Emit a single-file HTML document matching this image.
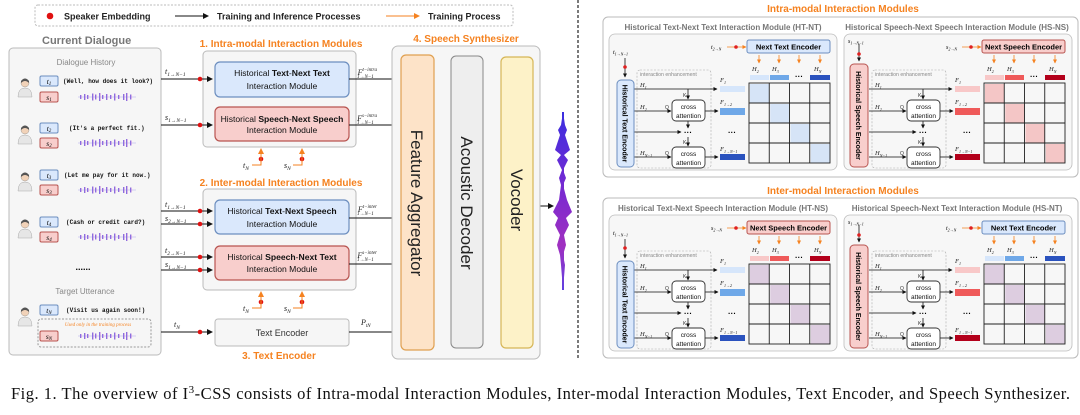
<!DOCTYPE html>
<html><head><meta charset="utf-8"><style>
html,body{margin:0;padding:0;background:#fff;}
svg{display:block;font-family:"Liberation Sans",sans-serif;}
.m{font-family:"Liberation Serif",serif;font-style:italic;}
.b{font-weight:bold;}
.mono{font-family:"Liberation Mono",monospace;font-weight:bold;}
</style></head><body>
<svg width="1080" height="415" viewBox="0 0 1080 415" xmlns="http://www.w3.org/2000/svg">
<defs>
<marker id="ak" markerWidth="6" markerHeight="6" refX="5" refY="3" orient="auto" markerUnits="userSpaceOnUse"><path d="M0,0 L6,3 L0,6 z" fill="#111"/></marker>
<marker id="ao" markerWidth="6" markerHeight="6" refX="5" refY="3" orient="auto" markerUnits="userSpaceOnUse"><path d="M0,0 L6,3 L0,6 z" fill="#f58220"/></marker>
<marker id="as" markerWidth="4" markerHeight="4" refX="3.5" refY="2" orient="auto" markerUnits="userSpaceOnUse"><path d="M0,0 L4,2 L0,4 z" fill="#111"/></marker>
<marker id="aso" markerWidth="4" markerHeight="4" refX="3.5" refY="2" orient="auto" markerUnits="userSpaceOnUse"><path d="M0,0 L4,2 L0,4 z" fill="#f58220"/></marker>
<linearGradient id="wg" x1="0" x2="1" y1="0" y2="0"><stop offset="0" stop-color="#5b6fe0"/><stop offset="0.5" stop-color="#a070e0"/><stop offset="1" stop-color="#d080d0"/></linearGradient>
<linearGradient id="wv" x1="0" x2="0" y1="0" y2="1"><stop offset="0" stop-color="#3a2ee0"/><stop offset="0.45" stop-color="#7a2ad0"/><stop offset="0.75" stop-color="#a030c0"/><stop offset="1" stop-color="#6040e0"/></linearGradient>
<g id="wave">
<path d="M0,0 H58" stroke="#b0a8f0" stroke-width="0.6"/>
<g fill="url(#wg)"><rect x="2" y="-2" width="1.5" height="4"/><rect x="6" y="-3" width="1.5" height="6"/><rect x="9" y="-2" width="1.5" height="4"/><rect x="14" y="-3.5" width="1.5" height="7"/><rect x="17" y="-2.5" width="1.5" height="5"/><rect x="21" y="-4" width="1.5" height="8"/><rect x="24" y="-2" width="1.5" height="4"/><rect x="28" y="-3" width="1.5" height="6"/><rect x="32" y="-2" width="1.5" height="4"/><rect x="36" y="-3.5" width="1.5" height="7"/><rect x="40" y="-2" width="1.5" height="4"/><rect x="45" y="-3" width="1.5" height="6"/><rect x="48" y="-4" width="1.5" height="8"/><rect x="52" y="-2.5" width="1.5" height="5"/></g>
</g>
<g id="av">
<circle cx="0" cy="-5" r="4" fill="#f1d2b8" stroke="#888" stroke-width="0.4"/>
<path d="M-4,-7 Q0,-12 4,-7 L4,-5 Q0,-9 -4,-5z" fill="#555"/>
<path d="M-7,9 Q-7,0 0,0 Q7,0 7,9z" fill="#e6e6e6" stroke="#999" stroke-width="0.4"/>
</g>
<g id="sm">
<rect x="0" y="0" width="228" height="136" rx="6" fill="#f7f7f7" stroke="#bdbdbd" stroke-width="0.8"/>
<rect x="28" y="36" width="74" height="98" rx="3" fill="none" stroke="#aaa" stroke-width="0.6" stroke-dasharray="2,1.5"/>
<text x="31" y="42" font-size="5.2" fill="#888">interaction enhancement</text>
<g stroke="#111" stroke-width="0.8" fill="none">
<path d="M25,55 H108" marker-end="url(#as)"/>
<path d="M25,77 H62" marker-end="url(#as)"/>
<path d="M25,98 H72" marker-end="url(#as)"/>
<path d="M25,123 H62" marker-end="url(#as)"/>
<path d="M79,55 V65" marker-end="url(#as)"/>
<path d="M79,87 V94" marker-end="url(#as)"/>
<path d="M79,103 V112" marker-end="url(#as)"/>
<path d="M96,77 H109" marker-end="url(#as)"/>
<path d="M96,123 H109" marker-end="url(#as)"/>
</g>
<rect x="63" y="66" width="33" height="21" rx="4" fill="#fff" stroke="#333" stroke-width="0.9"/>
<rect x="63" y="113" width="33" height="21" rx="4" fill="#fff" stroke="#333" stroke-width="0.9"/>
<g font-size="6.5" text-anchor="middle" fill="#111"><text x="79.5" y="75">cross</text><text x="79.5" y="84">attention</text><text x="79.5" y="122">cross</text><text x="79.5" y="131">attention</text></g>
<g font-size="5" fill="#333"><text x="74" y="63">K</text><text x="74" y="110">K</text><text x="56" y="75">Q</text><text x="56" y="121">Q</text></g>
<text x="79" y="101" font-size="8" text-anchor="middle" class="b">···</text>
<text x="123" y="101" font-size="8" text-anchor="middle" class="b">···</text>
<text x="190" y="45" font-size="8" text-anchor="middle" class="b">···</text>
<g stroke="#f58220" stroke-width="0.8"><path d="M150,21 V29" marker-end="url(#aso)"/><path d="M170,21 V29" marker-end="url(#aso)"/><path d="M190,21 V29" marker-end="url(#aso)"/><path d="M211,21 V29" marker-end="url(#aso)"/><path d="M118,13 H137" marker-end="url(#aso)"/></g>
<circle cx="127" cy="13" r="1.8" fill="#e02020"/>
<g class="m" font-size="6.5" fill="#222"><text x="31" y="53">H<tspan font-size="4" dy="2">1</tspan></text><text x="31" y="75">H<tspan font-size="4" dy="2">2</tspan></text><text x="31" y="121">H<tspan font-size="4" dy="2">N−1</tspan></text>
<text x="111" y="48">F<tspan font-size="4" dy="2">1</tspan></text><text x="111" y="70">F<tspan font-size="4" dy="2">1→2</tspan></text><text x="111" y="117">F<tspan font-size="4" dy="2">1→N−1</tspan></text>
<text x="143" y="37">H<tspan font-size="4" dy="2">2</tspan></text><text x="163" y="37">H<tspan font-size="4" dy="2">3</tspan></text><text x="205" y="37">H<tspan font-size="4" dy="2">N</tspan></text></g>
</g>
<g id="grid" fill="none" stroke="#222" stroke-width="0.9">
<rect x="140" y="49" width="81" height="80"/>
<path d="M160.25,49V129M180.5,49V129M200.75,49V129M140,69H221M140,89H221M140,109H221"/>
</g>
</defs>

<!-- Legend -->
<rect x="35" y="5" width="478" height="21" rx="3" fill="#fff" stroke="#bbb" stroke-dasharray="2,1.5"/>
<circle cx="50" cy="16" r="3.3" fill="#e01010"/>
<text x="64" y="19.5" font-size="9" class="b" fill="#222">Speaker Embedding</text>
<path d="M175,16 H208" stroke="#111" stroke-width="1" marker-end="url(#ak)"/>
<text x="217" y="19.5" font-size="9" class="b" fill="#222">Training and Inference Processes</text>
<path d="M386,16 H419" stroke="#f58220" stroke-width="1" marker-end="url(#ao)"/>
<text x="428" y="19.5" font-size="9" class="b" fill="#222">Training Process</text>

<!-- Left panel -->
<text x="42" y="44" font-size="11" class="b" fill="#777">Current Dialogue</text>
<rect x="9" y="48" width="152" height="307" rx="4" fill="#f6f6f6" stroke="#bbb"/>
<text x="86" y="65" font-size="8" fill="#888" text-anchor="middle">Dialogue History</text>
<g font-size="7.5" class="m" text-anchor="middle">
<rect x="40" y="76" width="18" height="10" rx="1.5" fill="#dae8fc" stroke="#6c8ebf"/><text x="49" y="84">t<tspan font-size="5" dy="1">1</tspan></text>
<rect x="40" y="92" width="18" height="10" rx="1.5" fill="#f8cecc" stroke="#b85450"/><text x="49" y="100">s<tspan font-size="5" dy="1">1</tspan></text>
<rect x="40" y="123" width="18" height="10" rx="1.5" fill="#dae8fc" stroke="#6c8ebf"/><text x="49" y="131">t<tspan font-size="5" dy="1">2</tspan></text>
<rect x="40" y="138" width="18" height="10" rx="1.5" fill="#f8cecc" stroke="#b85450"/><text x="49" y="146">s<tspan font-size="5" dy="1">2</tspan></text>
<rect x="40" y="170" width="18" height="10" rx="1.5" fill="#dae8fc" stroke="#6c8ebf"/><text x="49" y="178">t<tspan font-size="5" dy="1">3</tspan></text>
<rect x="40" y="185" width="18" height="10" rx="1.5" fill="#f8cecc" stroke="#b85450"/><text x="49" y="193">s<tspan font-size="5" dy="1">3</tspan></text>
<rect x="40" y="217" width="18" height="10" rx="1.5" fill="#dae8fc" stroke="#6c8ebf"/><text x="49" y="225">t<tspan font-size="5" dy="1">4</tspan></text>
<rect x="40" y="232" width="18" height="10" rx="1.5" fill="#f8cecc" stroke="#b85450"/><text x="49" y="240">s<tspan font-size="5" dy="1">4</tspan></text>
<rect x="40" y="305" width="18" height="10" rx="1.5" fill="#dae8fc" stroke="#6c8ebf"/><text x="49" y="313">t<tspan font-size="5" dy="1">N</tspan></text>
<rect x="40" y="331" width="18" height="10" rx="1.5" fill="#f8cecc" stroke="#b85450"/><text x="49" y="339">s<tspan font-size="5" dy="1">N</tspan></text>
</g>
<g class="mono" font-size="6" fill="#111">
<text x="63" y="83">(Well, how does it look?)</text>
<text x="69" y="130">(It's a perfect fit.)</text>
<text x="64" y="177">(Let me pay for it now.)</text>
<text x="66" y="224">(Cash or credit card?)</text>
<text x="66" y="312">(Visit us again soon!)</text>
</g>
<use href="#wave" x="78" y="97"/><use href="#wave" x="78" y="143"/><use href="#wave" x="78" y="190"/><use href="#wave" x="78" y="237"/><use href="#wave" x="78" y="336"/>
<use href="#av" x="25" y="88"/><use href="#av" x="25" y="135"/><use href="#av" x="25" y="182"/><use href="#av" x="25" y="229"/><use href="#av" x="25" y="317"/>
<text x="83" y="270" font-size="9" class="b" text-anchor="middle">......</text>
<text x="85" y="294" font-size="8" fill="#888" text-anchor="middle">Target Utterance</text>
<rect x="38" y="319" width="113" height="28" rx="3" fill="none" stroke="#999" stroke-dasharray="2,1.5"/>
<text x="98" y="326" font-size="5" class="m" fill="#f58220" text-anchor="middle">Used only in the training process</text>

<!-- Section labels -->
<g font-size="10" class="b" fill="#f58220" text-anchor="middle">
<text x="281" y="47">1. Intra-modal Interaction Modules</text>
<text x="281" y="186">2. Inter-modal Interaction Modules</text>
<text x="279" y="359">3. Text Encoder</text>
<text x="466" y="42">4. Speech Synthesizer</text>
<text x="843" y="12">Intra-modal Interaction Modules</text>
<text x="843" y="194">Inter-modal Interaction Modules</text>
</g>

<!-- Intra box -->
<rect x="203" y="51" width="153" height="96" rx="4" fill="#f6f6f6" stroke="#bbb"/>
<rect x="215" y="62" width="134" height="35" rx="5" fill="#dae8fc" stroke="#6c8ebf" stroke-width="1.2"/>
<rect x="215" y="107" width="134" height="34" rx="5" fill="#f8cecc" stroke="#b85450" stroke-width="1.2"/>
<g font-size="8.6" text-anchor="middle" fill="#111">
<text x="282" y="76">Historical <tspan class="b">Text</tspan>-<tspan class="b">Next</tspan> <tspan class="b">Text</tspan></text><text x="282" y="89">Interaction Module</text>
<text x="282" y="122">Historical <tspan class="b">Speech</tspan>-<tspan class="b">Next</tspan> <tspan class="b">Speech</tspan></text><text x="282" y="133">Interaction Module</text>
</g>
<!-- Inter box -->
<rect x="203" y="189" width="153" height="101" rx="4" fill="#f6f6f6" stroke="#bbb"/>
<rect x="215" y="200" width="134" height="34" rx="5" fill="#dae8fc" stroke="#6c8ebf" stroke-width="1.2"/>
<rect x="215" y="246" width="134" height="34" rx="5" fill="#f8cecc" stroke="#b85450" stroke-width="1.2"/>
<g font-size="8.6" text-anchor="middle" fill="#111">
<text x="282" y="214">Historical <tspan class="b">Text</tspan>-<tspan class="b">Next</tspan> <tspan class="b">Speech</tspan></text><text x="282" y="227">Interaction Module</text>
<text x="282" y="260">Historical <tspan class="b">Speech</tspan>-<tspan class="b">Next</tspan> <tspan class="b">Text</tspan></text><text x="282" y="272">Interaction Module</text>
</g>
<!-- Text encoder -->
<rect x="215" y="319" width="134" height="27" rx="3" fill="#f6f6f6" stroke="#bbb"/>
<text x="282" y="336" font-size="9" text-anchor="middle" fill="#333">Text Encoder</text>

<!-- input arrows -->
<g stroke="#111" stroke-width="1" fill="none">
<path d="M161,79 H212" marker-end="url(#ak)"/><path d="M161,125 H212" marker-end="url(#ak)"/>
<path d="M161,211 H212" marker-end="url(#ak)"/><path d="M161,224 H212" marker-end="url(#ak)"/>
<path d="M161,257 H212" marker-end="url(#ak)"/><path d="M161,270 H212" marker-end="url(#ak)"/>
<path d="M161,332 H212" marker-end="url(#ak)"/>
<path d="M349,79 H399" marker-end="url(#ak)"/><path d="M349,125 H399" marker-end="url(#ak)"/>
<path d="M349,218 H399" marker-end="url(#ak)"/><path d="M349,264 H399" marker-end="url(#ak)"/>
<path d="M349,332 H399" marker-end="url(#ak)"/>
<path d="M437,206 H448" marker-end="url(#ak)"/><path d="M486,206 H497" marker-end="url(#ak)"/><path d="M535,206 H553" marker-end="url(#ak)"/>
</g>
<g fill="#e01010"><circle cx="200" cy="79" r="2.3"/><circle cx="200" cy="125" r="2.3"/><circle cx="200" cy="211" r="2.3"/><circle cx="200" cy="224" r="2.3"/><circle cx="200" cy="257" r="2.3"/><circle cx="200" cy="270" r="2.3"/><circle cx="200" cy="332" r="2.3"/>
<circle cx="261" cy="159" r="2.3"/><circle cx="302" cy="159" r="2.3"/><circle cx="261" cy="302" r="2.3"/><circle cx="302" cy="302" r="2.3"/></g>
<g stroke="#f58220" stroke-width="1" fill="none">
<path d="M252,165 H261 V149" marker-end="url(#ao)"/><path d="M293,165 H302 V149" marker-end="url(#ao)"/>
<path d="M252,308 H261 V292" marker-end="url(#ao)"/><path d="M293,308 H302 V292" marker-end="url(#ao)"/>
</g>
<g class="m" font-size="8" fill="#222">
<text x="165" y="74">t<tspan font-size="5.5" dy="2">1→N−1</tspan></text>
<text x="165" y="120">s<tspan font-size="5.5" dy="2">1→N−1</tspan></text>
<text x="165" y="207">t<tspan font-size="5.5" dy="2">1→N−1</tspan></text>
<text x="165" y="221">s<tspan font-size="5.5" dy="2">2→N−1</tspan></text>
<text x="165" y="253">t<tspan font-size="5.5" dy="2">2→N−1</tspan></text>
<text x="165" y="267">s<tspan font-size="5.5" dy="2">1→N−1</tspan></text>
<text x="174" y="327">t<tspan font-size="5.5" dy="2">N</tspan></text>
<text x="243" y="168">t<tspan font-size="5.5" dy="2">N</tspan></text><text x="284" y="168">s<tspan font-size="5.5" dy="2">N</tspan></text>
<text x="243" y="311">t<tspan font-size="5.5" dy="2">N</tspan></text><text x="284" y="311">s<tspan font-size="5.5" dy="2">N</tspan></text>
<text x="357" y="75">F<tspan font-size="5" dy="-4">t−intra</tspan><tspan font-size="5" dx="-20" dy="7">1→N−1</tspan></text>
<text x="357" y="121">F<tspan font-size="5" dy="-4">s−intra</tspan><tspan font-size="5" dx="-20" dy="7">1→N−1</tspan></text>
<text x="357" y="212">F<tspan font-size="5" dy="-4">t−inter</tspan><tspan font-size="5" dx="-20" dy="7">1→N−1</tspan></text>
<text x="357" y="258">F<tspan font-size="5" dy="-4">s−inter</tspan><tspan font-size="5" dx="-20" dy="7">1→N−1</tspan></text>
<text x="361" y="325">P<tspan font-size="5" dy="2">tN</tspan></text>
</g>

<!-- Speech synthesizer -->
<rect x="392" y="46" width="148" height="313" rx="6" fill="#f6f6f6" stroke="#bbb"/>
<rect x="401" y="55" width="33" height="295" rx="5" fill="#fde3c8" stroke="#e0a050" stroke-width="1.2"/>
<rect x="451" y="56" width="32" height="292" rx="5" fill="#eeeeee" stroke="#888" stroke-width="1"/>
<rect x="501" y="57" width="32" height="291" rx="5" fill="#fdf2c8" stroke="#d6b656" stroke-width="1.2"/>
<g font-size="17" fill="#222" text-anchor="middle">
<text transform="translate(411,203) rotate(90)">Feature  Aggregator</text>
<text transform="translate(461,203) rotate(90)">Acoustic Decoder</text>
<text transform="translate(511,200) rotate(90)">Vocoder</text>
</g>
<!-- big waveform -->
<g fill="url(#wv)">
<rect x="562" y="112" width="2" height="178"/>
<path d="M563,112 L565,125 L567,130 L565,135 L570,150 L564,155 L568,160 L563,170 L566,178 L563,185 L567,200 L572,212 L566,218 L569,225 L564,235 L566,245 L563,255 L565,265 L563,290 L561,265 L560,255 L557,245 L560,235 L555,225 L558,218 L553,212 L559,200 L561,185 L559,178 L562,170 L557,160 L561,155 L555,150 L560,135 L558,130 L561,125z"/>
</g>
<!-- divider -->
<path d="M578,0 V360" stroke="#222" stroke-width="1.2" stroke-dasharray="3,2"/>

<!-- Right panels -->
<rect x="603" y="17" width="475" height="160" rx="5" fill="#fff" stroke="#bbb"/>
<rect x="603" y="198" width="475" height="160" rx="5" fill="#fff" stroke="#bbb"/>
<g font-size="8" class="b" fill="#777" text-anchor="middle">
<text x="723" y="30">Historical Text-Next Text Interaction Module (HT-NT)</text>
<text x="957" y="30">Historical Speech-Next Speech Interaction Module (HS-NS)</text>
<text x="723" y="211">Historical Text-Next Speech Interaction Module (HT-NS)</text>
<text x="957" y="211">Historical Speech-Next Text Interaction Module (HS-NT)</text>
</g>

<!-- Sub A -->
<g transform="translate(609,34)">
<use href="#sm"/>
<rect x="141" y="50" width="19.25" height="19" fill="#d6e4f7"/><rect x="161.25" y="70" width="19.25" height="19" fill="#d6e4f7"/><rect x="181.5" y="90" width="19.25" height="19" fill="#d6e4f7"/><rect x="201.75" y="110" width="19.25" height="19" fill="#d6e4f7"/>
<use href="#grid"/>
<rect x="8" y="46" width="17" height="87" rx="4" fill="#dae8fc" stroke="#6c8ebf"/>
<text transform="translate(13.5,89.5) rotate(90)" font-size="7" class="b" text-anchor="middle">Historical Text Encoder</text>
<path d="M16,24 V43" stroke="#111" stroke-width="0.8" marker-end="url(#as)"/><circle cx="16" cy="33" r="1.8" fill="#e02020"/>
<text x="4" y="20" font-size="6" class="m">t<tspan font-size="4" dy="1.5">1→N−1</tspan></text>
<text x="102" y="15" font-size="6" class="m">t<tspan font-size="4" dy="1.5">2→N</tspan></text>
<rect x="138" y="6" width="83" height="13" rx="2" fill="#dae8fc" stroke="#6c8ebf"/><text x="179.5" y="15.5" font-size="7.5" class="b" text-anchor="middle">Next Text Encoder</text>
<rect x="141" y="41" width="19" height="5" fill="#d6e6fb"/><rect x="161" y="41" width="19" height="5" fill="#6fa8e8"/><rect x="201" y="41" width="20" height="5" fill="#2a52be"/>
<rect x="111" y="52" width="25" height="6" fill="#d6e6fb"/><rect x="111" y="74" width="25" height="7" fill="#6fa8e8"/><rect x="111" y="120" width="25" height="6" fill="#2a52be"/>
</g>
<!-- Sub B -->
<g transform="translate(844,34)">
<use href="#sm"/>
<rect x="141" y="50" width="19.25" height="19" fill="#f4c6c6"/><rect x="161.25" y="70" width="19.25" height="19" fill="#f4c6c6"/><rect x="181.5" y="90" width="19.25" height="19" fill="#f4c6c6"/><rect x="201.75" y="110" width="19.25" height="19" fill="#f4c6c6"/>
<use href="#grid"/>
<rect x="6" y="30" width="18" height="103" rx="4" fill="#f8cecc" stroke="#b85450"/>
<text transform="translate(12,81.5) rotate(90)" font-size="7" class="b" text-anchor="middle">Historical Speech Encoder</text>
<path d="M15,10 V27" stroke="#111" stroke-width="0.8" marker-end="url(#as)"/><circle cx="15" cy="20" r="1.8" fill="#e02020"/>
<text x="4" y="9" font-size="6" class="m">s<tspan font-size="4" dy="1.5">1→N−1</tspan></text>
<text x="102" y="15" font-size="6" class="m">s<tspan font-size="4" dy="1.5">2→N</tspan></text>
<rect x="138" y="6" width="83" height="13" rx="2" fill="#f8cecc" stroke="#b85450"/><text x="179.5" y="15.5" font-size="7.5" class="b" text-anchor="middle">Next Speech Encoder</text>
<rect x="141" y="41" width="19" height="5" fill="#f8c8c8"/><rect x="161" y="41" width="19" height="5" fill="#ef5a5a"/><rect x="201" y="41" width="20" height="5" fill="#b3001b"/>
<rect x="111" y="52" width="25" height="6" fill="#f8c8c8"/><rect x="111" y="74" width="25" height="7" fill="#ef5a5a"/><rect x="111" y="120" width="25" height="6" fill="#b3001b"/>
</g>
<!-- Sub C -->
<g transform="translate(609,215)">
<use href="#sm"/>
<rect x="141" y="50" width="19.25" height="19" fill="#ddcde0"/><rect x="161.25" y="70" width="19.25" height="19" fill="#ddcde0"/><rect x="181.5" y="90" width="19.25" height="19" fill="#ddcde0"/><rect x="201.75" y="110" width="19.25" height="19" fill="#ddcde0"/>
<use href="#grid"/>
<rect x="8" y="46" width="17" height="87" rx="4" fill="#dae8fc" stroke="#6c8ebf"/>
<text transform="translate(13.5,89.5) rotate(90)" font-size="7" class="b" text-anchor="middle">Historical Text Encoder</text>
<path d="M16,24 V43" stroke="#111" stroke-width="0.8" marker-end="url(#as)"/><circle cx="16" cy="33" r="1.8" fill="#e02020"/>
<text x="4" y="20" font-size="6" class="m">t<tspan font-size="4" dy="1.5">1→N−1</tspan></text>
<text x="102" y="15" font-size="6" class="m">s<tspan font-size="4" dy="1.5">2→N</tspan></text>
<rect x="138" y="6" width="83" height="13" rx="2" fill="#f8cecc" stroke="#b85450"/><text x="179.5" y="15.5" font-size="7.5" class="b" text-anchor="middle">Next Speech Encoder</text>
<rect x="141" y="41" width="19" height="5" fill="#f8c8c8"/><rect x="161" y="41" width="19" height="5" fill="#ef5a5a"/><rect x="201" y="41" width="20" height="5" fill="#b3001b"/>
<rect x="111" y="52" width="25" height="6" fill="#d6e6fb"/><rect x="111" y="74" width="25" height="7" fill="#6fa8e8"/><rect x="111" y="120" width="25" height="6" fill="#2a52be"/>
</g>
<!-- Sub D -->
<g transform="translate(844,215)">
<use href="#sm"/>
<rect x="141" y="50" width="19.25" height="19" fill="#ddcde0"/><rect x="161.25" y="70" width="19.25" height="19" fill="#ddcde0"/><rect x="181.5" y="90" width="19.25" height="19" fill="#ddcde0"/><rect x="201.75" y="110" width="19.25" height="19" fill="#ddcde0"/>
<use href="#grid"/>
<rect x="6" y="30" width="18" height="103" rx="4" fill="#f8cecc" stroke="#b85450"/>
<text transform="translate(12,81.5) rotate(90)" font-size="7" class="b" text-anchor="middle">Historical Speech Encoder</text>
<path d="M15,10 V27" stroke="#111" stroke-width="0.8" marker-end="url(#as)"/><circle cx="15" cy="20" r="1.8" fill="#e02020"/>
<text x="4" y="9" font-size="6" class="m">s<tspan font-size="4" dy="1.5">1→N−1</tspan></text>
<text x="102" y="15" font-size="6" class="m">t<tspan font-size="4" dy="1.5">2→N</tspan></text>
<rect x="138" y="6" width="83" height="13" rx="2" fill="#dae8fc" stroke="#6c8ebf"/><text x="179.5" y="15.5" font-size="7.5" class="b" text-anchor="middle">Next Text Encoder</text>
<rect x="141" y="41" width="19" height="5" fill="#d6e6fb"/><rect x="161" y="41" width="19" height="5" fill="#6fa8e8"/><rect x="201" y="41" width="20" height="5" fill="#2a52be"/>
<rect x="111" y="52" width="25" height="6" fill="#f8c8c8"/><rect x="111" y="74" width="25" height="7" fill="#ef5a5a"/><rect x="111" y="120" width="25" height="6" fill="#b3001b"/>
</g>

<!-- Caption -->
<text x="11" y="399" font-size="16.5" font-family="Liberation Serif, serif" fill="#111" textLength="1059" lengthAdjust="spacing">Fig. 1.  The overview of I<tspan font-size="11" dy="-6">3</tspan><tspan dy="6">-CSS consists of Intra-modal Interaction Modules, Inter-modal Interaction Modules, Text Encoder, and Speech Synthesizer.</tspan></text>
</svg>
</body></html>
